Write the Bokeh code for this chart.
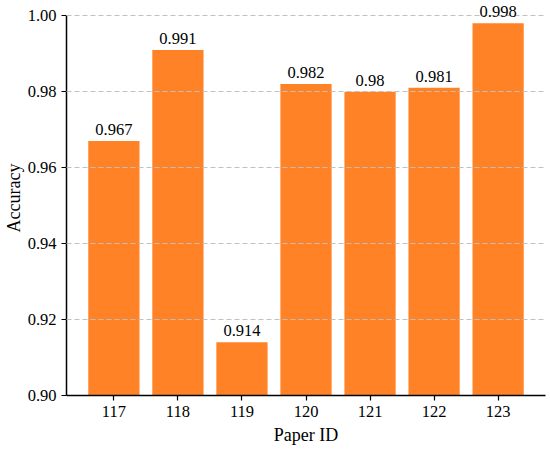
from bokeh.plotting import figure
from bokeh.models import Range1d, FixedTicker, NumeralTickFormatter, ColumnDataSource, LabelSet
from bokeh.embed import file_html
from bokeh.resources import INLINE

paper_ids = [117, 118, 119, 120, 121, 122, 123]
accuracy = [0.967, 0.991, 0.914, 0.982, 0.98, 0.981, 0.998]
y_ticks = [0.90, 0.92, 0.94, 0.96, 0.98, 1.00]
bar_labels = [str(v) for v in accuracy]

FONT = "Liberation Serif"
BAR_COLOR = "#ff8226"

Y_MIN, Y_MAX = 0.90, 1.00
HEADROOM = 0.004  # room above the top tick for the value labels

src = ColumnDataSource(dict(x=paper_ids, top=accuracy, label=bar_labels))

p = figure(
    output_backend="svg", toolbar_location=None,
    frame_width=479, frame_height=395,
    x_range=Range1d(116.26, 123.74), y_range=Range1d(Y_MIN, Y_MAX + HEADROOM),
    min_border_left=56, min_border_top=0, min_border_right=4, min_border_bottom=46,
)
p.outline_line_color = None
p.background_fill_color = "white"

p.vbar(x="x", top="top", bottom=Y_MIN, width=0.8, source=src,
       fill_color=BAR_COLOR, line_color=None)

labels = LabelSet(x="x", y="top", text="label", source=src,
                  text_align="center", text_baseline="bottom", y_offset=6,
                  text_font=FONT, text_font_size="16.5px", text_color="black")
p.add_layout(labels)

p.xgrid.visible = False
p.ygrid.ticker = FixedTicker(ticks=y_ticks)
p.ygrid.grid_line_color = "#c0c0c0"
p.ygrid.grid_line_dash = "5 3"
p.ygrid.grid_line_width = 1
p.ygrid.level = "annotation"

p.xaxis.ticker = FixedTicker(ticks=paper_ids)
p.yaxis.ticker = FixedTicker(ticks=y_ticks)
p.yaxis.formatter = NumeralTickFormatter(format="0.00")
p.yaxis.bounds = (Y_MIN, Y_MAX)

for ax in (p.xaxis, p.yaxis):
    ax.axis_line_color = "black"
    ax.axis_line_width = 1.5
    ax.major_tick_line_color = "black"
    ax.major_tick_line_width = 1.2
    ax.major_tick_out = 5
    ax.major_tick_in = 0
    ax.minor_tick_line_color = None
    ax.major_label_text_font = FONT
    ax.major_label_text_font_size = "16.5px"
    ax.major_label_text_color = "black"
    ax.axis_label_text_font = FONT
    ax.axis_label_text_font_size = "18px"
    ax.axis_label_text_font_style = "normal"
    ax.axis_label_text_color = "black"

p.xaxis.axis_label = "Paper ID"
p.yaxis.axis_label = "Accuracy"
p.xaxis.major_label_standoff = 5
p.yaxis.major_label_standoff = 5
p.xaxis.axis_label_standoff = 5
p.yaxis.axis_label_standoff = 1

open("out.html", "w").write(file_html(p, INLINE))
